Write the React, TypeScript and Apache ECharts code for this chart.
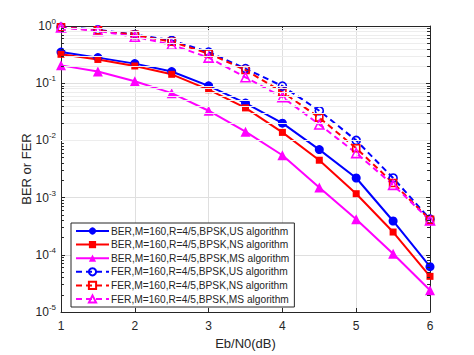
import React, { useEffect, useRef } from "react";
import * as echarts from "echarts";

const ebn0 = [1, 1.5, 2, 2.5, 3, 3.5, 4, 4.5, 5, 5.5, 6];

const berUS = [0.35, 0.28, 0.22, 0.16, 0.09, 0.045, 0.02, 0.0069, 0.0022, 0.00039, 0.000062];
const berNS = [0.32, 0.26, 0.2, 0.143, 0.077, 0.037, 0.0138, 0.0045, 0.00117, 0.00025, 0.000042];
const berMS = [0.205, 0.16, 0.108, 0.067, 0.033, 0.0142, 0.0055, 0.0015, 0.00042, 0.000104, 0.000024];
const ferUS = [0.95, 0.86, 0.71, 0.56, 0.35, 0.18, 0.089, 0.033, 0.01, 0.0022, 0.00042];
const ferNS = [0.95, 0.84, 0.7, 0.53, 0.33, 0.17, 0.07, 0.025, 0.0073, 0.0018, 0.00041];
const ferMS = [0.94, 0.82, 0.65, 0.47, 0.28, 0.127, 0.057, 0.019, 0.006, 0.00167, 0.0004];

const names = [
  "BER,M=160,R=4/5,BPSK,US algorithm",
  "BER,M=160,R=4/5,BPSK,NS algorithm",
  "BER,M=160,R=4/5,BPSK,MS algorithm",
  "FER,M=160,R=4/5,BPSK,US algorithm",
  "FER,M=160,R=4/5,BPSK,NS algorithm",
  "FER,M=160,R=4/5,BPSK,MS algorithm",
];

const minorGrid: number[] = [];
for (let e = -5; e < 0; e++) {
  for (let m = 2; m <= 9; m++) minorGrid.push(m * Math.pow(10, e));
}

const BLUE = "#0000ff";
const RED = "#ff0000";
const MAG = "#ff00ff";
const AX = "#262626";

export default function App() {
  const ref = useRef<HTMLDivElement>(null);
  useEffect(() => {
    if (!ref.current) return;
    const chart = echarts.init(ref.current, undefined, { renderer: "svg" });
    const pairs = (ys: number[]) => ebn0.map((x, i) => [x, ys[i]]);
    const mk = (
      name: string,
      ys: number[],
      color: string,
      symbol: string,
      size: number,
      dashed: boolean
    ) => ({
      name,
      type: "line",
      data: pairs(ys),
      symbol,
      symbolSize: size,
      z: 3,
      lineStyle: { color, width: 2, type: dashed ? [6, 4] : "solid" },
      itemStyle: dashed
        ? { color: "rgba(255,255,255,0)", borderColor: color, borderWidth: 1.6 }
        : { color, borderColor: color, borderWidth: 0 },
      emphasis: { disabled: true },
    });
    const labelFmt = (v: number) => `10{sup|${Math.round(Math.log10(v))}}`;
    const tickLen = 0.04;
    const minorTicks: any[] = [];
    minorGrid.forEach((v) => {
      minorTicks.push([{ coord: [1, v] }, { coord: [1 + tickLen, v] }]);
      minorTicks.push([{ coord: [6 - tickLen, v] }, { coord: [6, v] }]);
    });
    chart.setOption({
      animation: false,
      backgroundColor: "#ffffff",
      textStyle: { fontFamily: "Liberation Sans, Arial, sans-serif" },
      grid: { left: 61, right: 44, top: 26, bottom: 39, containLabel: false },
      legend: {
        orient: "vertical",
        left: 71,
        top: 223,
        data: names,
        backgroundColor: "#ffffff",
        borderColor: AX,
        borderWidth: 1,
        borderRadius: 0,
        padding: [3, 5, 3, 4],
        itemWidth: 33,
        itemHeight: 9,
        itemGap: 3.6,
        textStyle: { fontSize: 10.2, lineHeight: 10, color: AX, padding: [0, 0, 0, -3] },
      },
      xAxis: [
        {
          type: "value",
          min: 1,
          max: 6,
          interval: 1,
          name: "Eb/N0(dB)",
          nameLocation: "middle",
          nameGap: 25,
          nameTextStyle: { fontSize: 13, color: AX },
          axisLine: { show: true, onZero: false, lineStyle: { color: AX, width: 1 } },
          axisTick: { show: true, inside: true, length: 4, lineStyle: { color: AX } },
          axisLabel: { fontSize: 12, color: AX, margin: 8 },
          splitLine: { show: true, lineStyle: { color: "#dfdfdf", width: 1 } },
        },
        {
          type: "value",
          position: "top",
          min: 1,
          max: 6,
          interval: 1,
          axisLine: { show: true, onZero: false, lineStyle: { color: AX, width: 1 } },
          axisTick: { show: true, inside: true, length: 4, lineStyle: { color: AX } },
          axisLabel: { show: false },
          splitLine: { show: false },
        },
      ],
      yAxis: [
        {
          type: "log",
          logBase: 10,
          min: 1e-5,
          max: 1,
          name: "BER or FER",
          nameLocation: "middle",
          nameGap: 28,
          nameMoveOverlap: false,
          nameTextStyle: { fontSize: 13, color: AX },
          axisLine: { show: true, onZero: false, lineStyle: { color: AX, width: 1 } },
          axisTick: { show: true, inside: true, length: 4, lineStyle: { color: AX } },
          axisLabel: {
            formatter: labelFmt,
            fontSize: 12,
            color: AX,
            margin: 5,
            rich: {
              sup: { fontSize: 8, color: AX, padding: [0, 0, 9, 0] },
            },
          },
          splitLine: { show: true, lineStyle: { color: "#dfdfdf", width: 1 } },
        },
        {
          type: "log",
          logBase: 10,
          min: 1e-5,
          max: 1,
          position: "right",
          axisLine: { show: true, onZero: false, lineStyle: { color: AX, width: 1 } },
          axisTick: { show: true, inside: true, length: 4, lineStyle: { color: AX } },
          axisLabel: { show: false },
          splitLine: { show: false },
        },
      ],
      series: [
        {
          name: "minor-grid",
          type: "line",
          data: [],
          z: 1,
          silent: true,
          markLine: {
            silent: true,
            symbol: "none",
            label: { show: false },
            lineStyle: { color: "#ededed", width: 1, type: "solid" },
            data: minorGrid.map((v) => ({ yAxis: v })),
          },
        },
        {
          name: "minor-ticks",
          type: "line",
          data: [],
          z: 2,
          silent: true,
          markLine: {
            silent: true,
            symbol: "none",
            label: { show: false },
            lineStyle: { color: AX, width: 1, type: "solid" },
            data: minorTicks,
          },
        },
        mk(names[0], berUS, BLUE, "circle", 9, false),
        mk(names[1], berNS, RED, "rect", 7, false),
        mk(names[2], berMS, MAG, "triangle", 10, false),
        mk(names[3], ferUS, BLUE, "circle", 8, true),
        mk(names[4], ferNS, RED, "rect", 7, true),
        mk(names[5], ferMS, MAG, "triangle", 9, true),
      ],
    });
    return () => chart.dispose();
  }, []);
  return (
    <div
      ref={ref}
      style={{ position: "fixed", left: 0, top: 0, width: 474, height: 355, background: "#fff" }}
    />
  );
}
